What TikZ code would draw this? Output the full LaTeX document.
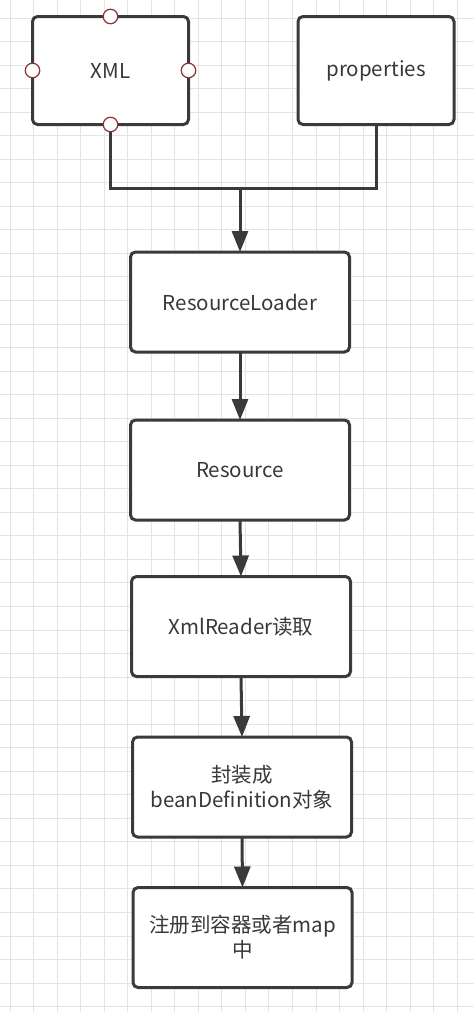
\documentclass[tikz,border=0pt]{standalone}
\usepackage{fontspec}
\setmainfont{Noto Sans CJK SC}
\usetikzlibrary{arrows.meta}
\definecolor{ink}{HTML}{3A3A3A}
\definecolor{txt}{HTML}{383838}
\definecolor{gridc}{HTML}{E4E4E4}
\definecolor{portc}{HTML}{8A3434}
\tikzset{
  procbox/.style={draw=ink, line width=3pt, fill=white, rounded corners=5pt,
    minimum width=219pt, minimum height=100pt, inner sep=0pt, outer sep=0pt,
    align=center, text=txt, font=\fontsize{20.5}{25}\selectfont},
  srcbox/.style={procbox, minimum width=156pt, minimum height=108pt},
  port/.style={circle, draw=portc, line width=1.2pt, fill=white, minimum size=14.5pt, inner sep=0pt},
  link/.style={draw=ink, line width=3pt},
  flow/.style={link, -{Triangle[length=21pt,width=16pt]}},
  gridline/.style={draw=gridc, line width=1pt}
}
\begin{document}
\begin{tikzpicture}[x=1pt,y=-1pt]
\fill[white] (0,0) rectangle (474,1012);
\useasboundingbox (0,0) rectangle (474,1012);
\foreach \i in {0,...,19} \draw[gridline] (10+\i*23.54,0) -- (10+\i*23.54,1012);
\foreach \j in {0,...,42} \draw[gridline] (0,18+\j*23.54) -- (474,18+\j*23.54);

\node[srcbox] (xml) at (110.5,70.5) {XML};
\node[srcbox] (props) at (376,70.5) {properties};
\node[procbox] (rl) at (240,302) {ResourceLoader};
\node[procbox] (res) at (240,470) {Resource};
\node[procbox] (xr) at (241,626.5) {XmlReader读取};
\node[procbox] (bd) at (242,787) {封装成\\beanDefinition对象};
\node[procbox] (reg) at (242.5,937.5) {注册到容器或者map\\中};

\coordinate (j) at (240,188);
\draw[link] (xml.south) |- (j) -| (props.south);
\draw[flow] (j) -- (rl.north);
\draw[flow] (rl.south) -- (res.north);
\draw[flow] (res.south) -- (xr.north);
\draw[flow] (xr.south) -- (bd.north);
\draw[flow] (bd.south) -- (reg.north);

\node[port] (pn) at (xml.north) {};
\node[port] (pw) at (xml.west) {};
\node[port] (pe) at (xml.east) {};
\node[port] (ps) at (xml.south) {};
\end{tikzpicture}
\end{document}
